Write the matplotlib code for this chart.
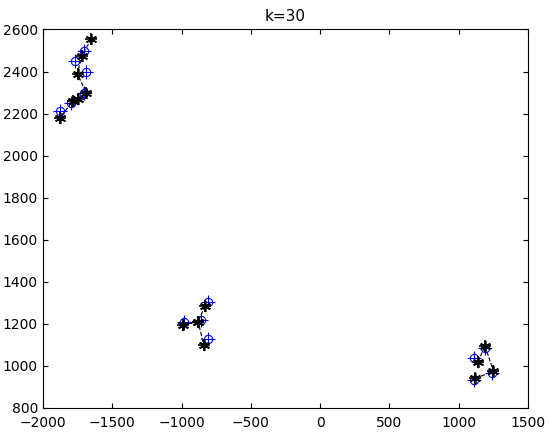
import matplotlib
matplotlib.use("Agg")
import matplotlib.pyplot as plt

# black asterisk points (path order)
black_x = [-1650, -1720, -1750, -1690, -1750, -1780, -1880,
           -830, -880, -990, -880, -840,
           1140, 1190, 1250, 1120]
black_y = [2555, 2475, 2390, 2300, 2270, 2260, 2180,
           1285, 1210, 1195, 1210, 1100,
           1020, 1095, 975, 940]
groups = [7, 5, 4]
blue_x = [-1700, -1770, -1690, -1700, -1800, -1880,
          -810, -980, -860, -810,
          1190, 1110, 1240, 1110]
blue_y = [2500, 2450, 2400, 2300, 2250, 2210,
          1305, 1210, 1220, 1130,
          1085, 1035, 965, 935]

fig = plt.figure(figsize=(5.5, 4.4), dpi=100)
ax = fig.add_axes([0.078, 0.073, 0.882, 0.86])
i = 0
for g in groups:
    ax.plot(black_x[i:i+g], black_y[i:i+g], 'k--', lw=0.8)
    i += g
ax.plot(blue_x, blue_y, 'o', mfc='none', mec='blue', ms=6, mew=0.8)
ax.plot(blue_x, blue_y, '+', color='blue', ms=10, mew=0.8)
for x, y in zip(black_x, black_y):
    ax.plot(x, y, marker=(6, 2, 0), color='black', ms=8, mew=1.2)
    ax.plot(x, y, '+', color='black', ms=8, mew=1.2)
ax.set_xlim(-2000, 1500)
ax.set_ylim(800, 2600)
ax.set_xticks(range(-2000, 1501, 500))
ax.set_yticks(range(800, 2601, 200))
ax.tick_params(direction='in', top=True, right=True, labelsize=10)
ax.tick_params(axis='x', pad=6)
ax.set_title('k=30', fontsize=11)
fig.savefig('out.png')
